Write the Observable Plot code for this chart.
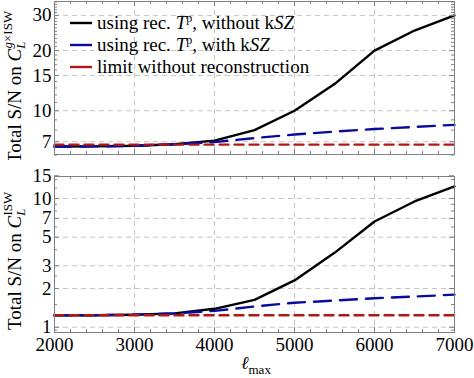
<!DOCTYPE html>
<html><head><meta charset="utf-8">
<script src="https://cdn.jsdelivr.net/npm/d3@7"></script>
<script src="https://cdn.jsdelivr.net/npm/@observablehq/plot@0.6"></script>
<style>
body{margin:0;background:#fff;width:474px;height:378px;overflow:hidden}
#chart svg{display:block}
</style></head><body><div id="chart"></div>
<script>
// ---- data ----
const ell = [2000, 2500, 3000, 3500, 4000, 4500, 5000, 5500, 6000, 6500, 7000];
const topNoKSZ = [6.62, 6.63, 6.68, 6.8, 7.09, 8.0, 10.0, 13.6, 20.0, 25.2, 30.0];
const topKSZ   = [6.62, 6.63, 6.68, 6.8, 6.97, 7.3, 7.6, 7.86, 8.1, 8.3, 8.5];
const topLimit = [6.77, 6.77, 6.77, 6.77, 6.77, 6.77, 6.77, 6.77, 6.77, 6.77, 6.77];
const botNoKSZ = [1.24, 1.24, 1.25, 1.28, 1.39, 1.63, 2.31, 3.78, 6.62, 9.47, 12.4];
const botKSZ   = [1.24, 1.24, 1.25, 1.28, 1.34, 1.45, 1.55, 1.61, 1.68, 1.73, 1.79];
const botLimit = [1.24, 1.24, 1.24, 1.24, 1.24, 1.24, 1.24, 1.24, 1.24, 1.24, 1.24];

const xTicks = [2000, 3000, 4000, 5000, 6000, 7000];
const xMinor = d3.range(2200, 7000, 200).filter(v => v % 1000 !== 0);
const xGrid = [3000, 4000, 5000, 6000];
const topYTicks = [7, 10, 15, 20, 30];
const topYGrid = [7, 10, 15, 20, 30];
const topYMinor = d3.range(6, 36).filter(v => !topYTicks.includes(v));
const botYTicks = [1, 2, 3, 5, 7, 10, 15];
const botYGrid = [1, 2, 3, 5, 7, 10];
const botYMinor = [0.95, 1.5, 2.5, 4, 6, 8, 9, 12, 14];

const seriesNames = ["noKSZ", "kSZ", "limit"];
const colors = {noKSZ: "#000000", kSZ: "#0a0a9c", limit: "#b01818"};
const dashes = {noKSZ: null, kSZ: "17,9", limit: "9,6"};

const W = 474, ML = 54, MR = 20;
const FONT = "'Liberation Serif', 'Times New Roman', serif";
const frameStroke = "#808080";

function rows(vals) { return ell.map((e, i) => ({ell: e, v: vals[i]})); }

function frameTicks(fw, fh, yMaj, yMin) {
  const s = {stroke: frameStroke, strokeWidth: 1};
  return [
    Plot.tickX(xTicks, {x: d => d, insetTop: fh - 5, ...s}),
    Plot.tickX(xTicks, {x: d => d, insetBottom: fh - 5, ...s}),
    Plot.tickX(xMinor, {x: d => d, insetTop: fh - 3, ...s}),
    Plot.tickX(xMinor, {x: d => d, insetBottom: fh - 3, ...s}),
    Plot.tickY(yMaj, {y: d => d, insetRight: fw - 5, ...s}),
    Plot.tickY(yMaj, {y: d => d, insetLeft: fw - 5, ...s}),
    Plot.tickY(yMin, {y: d => d, insetRight: fw - 3, ...s}),
    Plot.tickY(yMin, {y: d => d, insetLeft: fw - 3, ...s})
  ];
}

function lineMarks(data) {
  return seriesNames.map(k => Plot.line(rows(data[k]), {
    x: "ell", y: "v", stroke: colors[k], strokeWidth: 2.4,
    strokeDasharray: dashes[k], strokeLinejoin: "round"
  }));
}

const gridStyle = {stroke: "#c4c4c4", strokeOpacity: 1, strokeDasharray: "5,4", strokeWidth: 1};

function yLabels(ticks) {
  return Plot.text(ticks, {
    y: d => d, text: d => String(d), frameAnchor: "left", dx: -3,
    textAnchor: "end", fontSize: 19, fill: "#000"
  });
}

// ---- top panel ----
const topH = 160, topMT = 1, topMB = 6;
const topPlot = Plot.plot({
  width: W, height: topH, marginLeft: ML, marginRight: MR, marginTop: topMT, marginBottom: topMB,
  style: {fontFamily: FONT, fontSize: "19px", color: "#000", background: "#fff"},
  x: {domain: [2000, 7000], axis: null},
  y: {type: "log", domain: [6.04, 35.2], axis: null},
  marks: [
    Plot.ruleX(xGrid, {x: d => d, ...gridStyle}),
    Plot.ruleY(topYGrid, {y: d => d, ...gridStyle}),
    ...lineMarks({noKSZ: topNoKSZ, kSZ: topKSZ, limit: topLimit}),
    Plot.frame({stroke: frameStroke, strokeWidth: 1}),
    ...frameTicks(W - ML - MR, topH - topMT - topMB, topYTicks, topYMinor),
    yLabels(topYTicks)
  ]
});

// ---- bottom panel ----
const botH = 218, botMT = 16, botMB = 46;
const botPlot = Plot.plot({
  width: W, height: botH, marginLeft: ML, marginRight: MR, marginTop: botMT, marginBottom: botMB,
  style: {fontFamily: FONT, fontSize: "19px", color: "#000", background: "#fff"},
  x: {domain: [2000, 7000]},
  y: {type: "log", domain: [0.91, 14.8], axis: null},
  marks: [
    Plot.ruleX(xGrid, {x: d => d, ...gridStyle}),
    Plot.ruleY(botYGrid, {y: d => d, ...gridStyle}),
    ...lineMarks({noKSZ: botNoKSZ, kSZ: botKSZ, limit: botLimit}),
    Plot.frame({stroke: frameStroke, strokeWidth: 1}),
    ...frameTicks(W - ML - MR, botH - botMT - botMB, botYTicks, botYMinor),
    yLabels(botYTicks),
    Plot.axisX(xTicks, {tickSize: 0, tickPadding: 5, tickFormat: d => String(d), fontSize: 19, label: null})
  ]
});

document.getElementById("chart").append(topPlot, botPlot);

// ---- y titles ----
function yTitle(svgNode, startY, sup, supItalicFirst) {
  const t = d3.select(svgNode).append("text")
    .attr("transform", `translate(21,${startY}) rotate(-90)`)
    .attr("text-anchor", "start")
    .attr("font-family", FONT).attr("font-size", 19).attr("fill", "#000");
  t.append("tspan").text("Total S/N on ");
  t.append("tspan").attr("font-style", "italic").text("C");
  t.append("tspan").attr("font-style", "italic").attr("font-size", 13).attr("dy", 4).text("L");
  const s = t.append("tspan").attr("font-size", 13).attr("dx", -7).attr("dy", -13);
  if (supItalicFirst) {
    s.append("tspan").attr("font-style", "italic").text("g");
    s.append("tspan").text(sup);
  } else {
    s.text(sup);
  }
}
yTitle(topPlot, 163, "×ISW", true);
yTitle(botPlot, 330 - 160, "ISW", false);

// ---- x title ----
{
  const t = d3.select(botPlot).append("text")
    .attr("x", 241).attr("y", 209).attr("text-anchor", "start")
    .attr("font-family", FONT).attr("font-size", 20).attr("fill", "#000");
  t.append("tspan").attr("font-family", "'DejaVu Serif', serif").attr("font-style", "italic").attr("font-size", 18).text("ℓ");
  t.append("tspan").attr("font-size", 13).attr("dy", 5).text("max");
}

// ---- legend ----
{
  const lg = d3.select(topPlot).append("g").attr("font-family", FONT).attr("font-size", 19)
    .attr("fill", "#000").attr("text-anchor", "start");
  const labels = [
    [["using rec. ", null], ["T", "i"], ["p", "sup"], [", without k", "down"], ["SZ", "i"]],
    [["using rec. ", null], ["T", "i"], ["p", "sup"], [", with k", "down"], ["SZ", "i"]],
    [["limit without reconstruction", null]]
  ];
  seriesNames.forEach((k, i) => {
    const y = 23 + i * 22;
    lg.append("line").attr("x1", 70).attr("x2", 92).attr("y1", y).attr("y2", y)
      .attr("stroke", colors[k]).attr("stroke-width", 2.4);
    const t = lg.append("text").attr("x", 97).attr("y", y + 6).attr("text-anchor", "start");
    labels[i].forEach(([s, st]) => {
      const sp = t.append("tspan").text(s);
      if (st === "i") sp.attr("font-style", "italic");
      if (st === "sup") sp.attr("font-size", 12).attr("dy", -7);
      if (st === "down") sp.attr("dy", 7);
    });
  });
}
</script></body></html>
